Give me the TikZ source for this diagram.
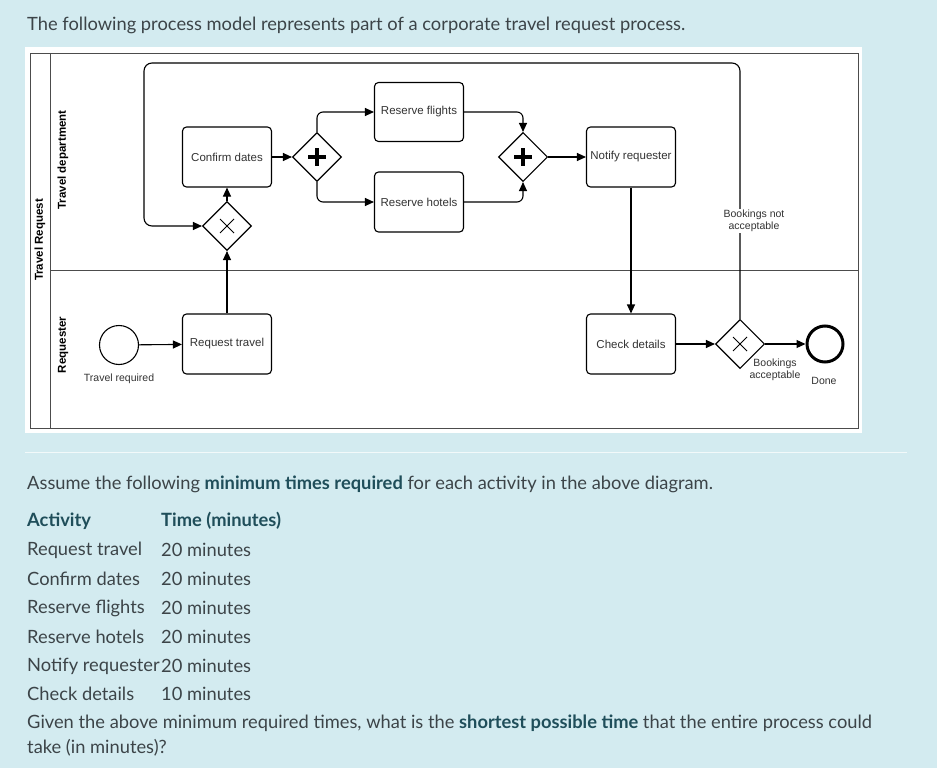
\documentclass[tikz,border=0pt]{standalone}
\usepackage{fontspec}
\setmainfont{Lato}
\newfontfamily\dfont{Liberation Sans}
\usetikzlibrary{arrows.meta,shapes.geometric,calc}
\definecolor{bgc}{HTML}{D3EBF0}
\definecolor{txt}{HTML}{3C4448}
\definecolor{hd}{HTML}{1F4E5A}
\begin{document}
\begin{tikzpicture}[x=1pt,y=-1pt,
  task/.style={draw,line width=1.1pt,rounded corners=4pt,minimum width=89pt,minimum height=60pt,inner sep=1pt,font=\dfont\fontsize{11.5}{12}\selectfont,text=black!80},
  gw/.style={draw,line width=1.1pt,diamond,minimum width=49pt,minimum height=49pt,inner sep=0pt,fill=white},
  flow/.style={line width=1.1pt,-{Triangle[length=9pt,width=8pt]}},
  lbl/.style={font=\dfont\fontsize{10.5}{11.5}\selectfont,text=black!80,align=center},
  lane/.style={rotate=90,font=\dfont\bfseries\fontsize{11.5}{12}\selectfont},
  body/.style={font=\fontsize{18.3}{22}\selectfont,text=txt,anchor=west,inner sep=0pt}]
\fill[bgc] (0,0) rectangle (937,768);
\useasboundingbox (0,0) rectangle (937,768);
\fill[white] (25,47) rectangle (862,433);
\draw[line width=0.6pt,black!70] (30,53) rectangle (858,428);
\draw[line width=0.6pt,black!70] (50,53) -- (50,428);
\draw[line width=0.6pt,black!70] (50,270) -- (858,270);
\node[lane] (pool) at (40,240) {Travel Request};
\node[lane] (lane1) at (63,160) {Travel department};
\node[lane] (lane2) at (63,345) {Requester};
% nodes
\node[draw,circle,line width=1.1pt,minimum size=39pt] (start) at (119,345) {};
\node[lbl] (startl) at (119,379) {Travel required};
\node[task] (req) at (227,344) {Request travel};
\node[gw] (x1) at (227,226) {};
\draw[line width=0.8pt] ($(x1)+(-7,-7)$) -- ($(x1)+(7,7)$) ($(x1)+(-7,7)$) -- ($(x1)+(7,-7)$);
\node[task] (conf) at (227,157) {Confirm dates};
\node[gw] (a1) at (317,157) {};
\draw[line width=3.2pt] ($(a1)+(-9,0)$) -- ($(a1)+(9,0)$) ($(a1)+(0,-9)$) -- ($(a1)+(0,9)$);
\node[task,minimum height=59pt] (rf) at (419,112) {Reserve flights};
\node[task] (rh) at (419,202) {Reserve hotels};
\node[gw] (a2) at (523,157) {};
\draw[line width=3.2pt] ($(a2)+(-9,0)$) -- ($(a2)+(9,0)$) ($(a2)+(0,-9)$) -- ($(a2)+(0,9)$);
\node[task] (nr) at (631,157) {Notify requester};
\node[task] (cd) at (631,344) {Check details};
\node[gw] (x2) at (740,344) {};
\draw[line width=0.8pt] ($(x2)+(-7,-7)$) -- ($(x2)+(7,7)$) ($(x2)+(-7,7)$) -- ($(x2)+(7,-7)$);
\node[draw,circle,line width=3pt,minimum size=36pt] (end) at (825,344) {};
\node[lbl] (endl) at (824,381) {Done};
% flows
\draw[flow] (start) -- (req);
\draw[flow] (req) -- (x1);
\draw[flow] (x1) -- (conf);
\draw[flow] (conf) -- (a1);
\draw[flow,rounded corners=6pt] (a1.north) |- (rf.west);
\draw[flow,rounded corners=6pt] (a1.south) |- (rh.west);
\draw[flow,rounded corners=6pt] (rf.east) -| (a2.north);
\draw[flow,rounded corners=6pt] (rh.east) -| (a2.south);
\draw[flow] (a2) -- (nr);
\draw[flow] (nr) -- (cd);
\draw[flow] (cd) -- (x2);
\draw[flow] (x2) -- (end);
\draw[flow,rounded corners=8pt] (x2.north) -- (740,63) -- (144,63) -- (144,226) -- (x1.west);
\node[lbl,fill=white,inner sep=1pt] (nacc) at (754,221) {Bookings not\\acceptable};
\node[lbl,inner sep=0pt] (acc) at (775,370) {Bookings\\acceptable};
% text
\node[body] (t1) at (27,25) {The following process model represents part of a corporate travel request process.};
\draw[white!70!bgc,line width=1pt] (25,452) -- (907,452);
\node[body] (t2) at (27,484) {Assume the following \textbf{\color{hd}minimum times required} for each activity in the above diagram.};
\node[body,text=hd] (h1) at (27,521) {\textbf{Activity}};
\node[body,text=hd] (h2) at (161,521) {\textbf{Time (minutes)}};
\foreach \n/\a/\y in {1/Request travel/550,2/Confirm dates/579,3/Reserve flights/608,4/Reserve hotels/637,5/Notify requester/666} {
  \node[body] (a\n r) at (27,\y) {\a};
  \node[body] (b\n r) at (161,\y) {20 minutes};
}
\node[body] (a6r) at (27,694) {Check details};
\node[body] (b6r) at (161,694) {10 minutes};
\node[body] (q1) at (27,723) {Given the above minimum required times, what is the \textbf{\color{hd}shortest possible time} that the entire process could};
\node[body] (q2) at (27,748) {take (in minutes)?};
\end{tikzpicture}
\end{document}
